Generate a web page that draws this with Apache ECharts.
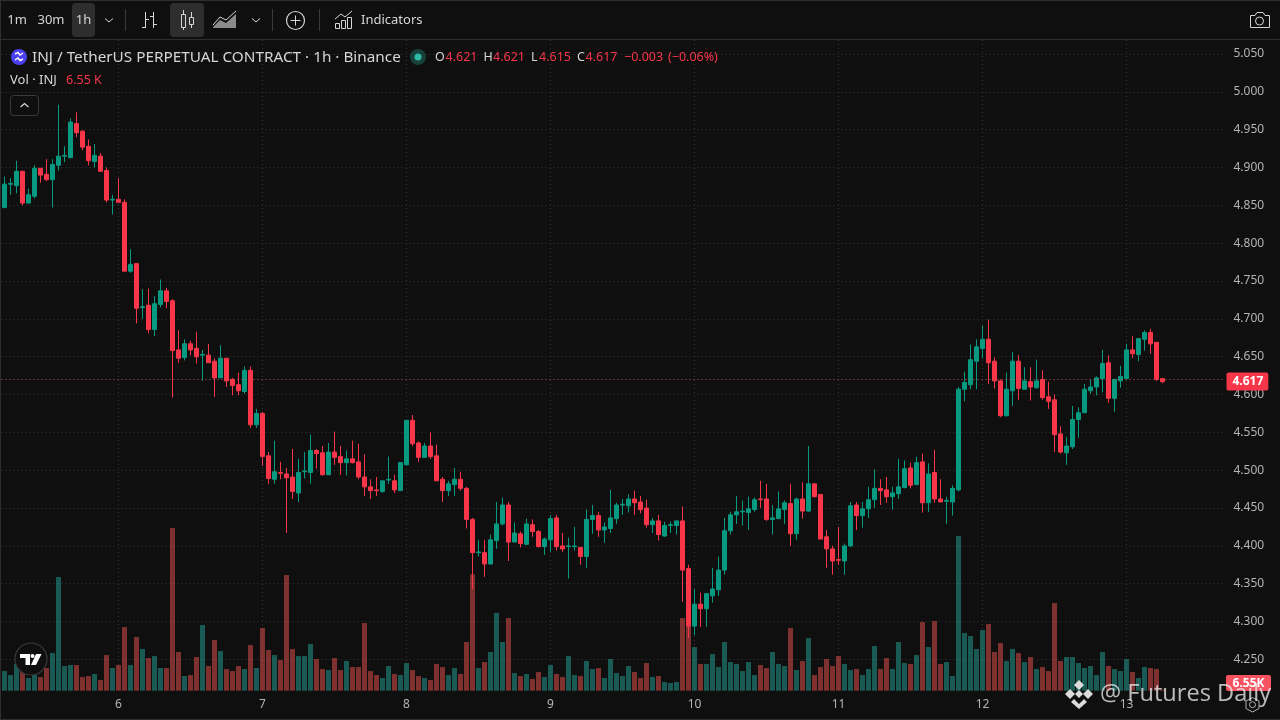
<!DOCTYPE html>
<html><head><meta charset="utf-8">
<style>html,body{margin:0;padding:0;background:#0f0f0f}#c{width:1280px;height:720px}</style>
<script src="https://cdn.jsdelivr.net/npm/echarts@6/dist/echarts.min.js"></script>
</head><body><div id="c"></div>
<script>
const tickLabels = ['6','7','8','9','10','11','12','13'];
const priceTicks = {min:4.25, max:5.05, step:0.05};
const lastPrice = 4.617;
const opens = [4.847,4.878,4.876,4.895,4.853,4.862,4.899,4.891,4.884,4.903,
4.915,4.913,4.958,4.948,4.928,4.908,4.915,4.896,4.857,4.858,
4.854,4.763,4.773,4.715,4.718,4.686,4.719,4.737,4.724,4.659,
4.649,4.667,4.661,4.652,4.652,4.644,4.622,4.648,4.620,4.613,
4.604,4.632,4.560,4.575,4.519,4.488,4.497,4.495,4.491,4.470,
4.498,4.497,4.526,4.523,4.494,4.524,4.518,4.510,4.515,4.511,
4.491,4.478,4.474,4.472,4.487,4.486,4.473,4.507,4.566,4.536,
4.517,4.532,4.519,4.488,4.473,4.481,4.488,4.476,4.435,4.391,
4.391,4.376,4.407,4.429,4.454,4.405,4.416,4.402,4.428,4.419,
4.399,4.408,4.437,4.400,4.399,4.399,4.398,4.386,4.435,4.440,
4.421,4.423,4.436,4.454,4.453,4.462,4.458,4.450,4.428,4.433,
4.413,4.427,4.427,4.433,4.370,4.294,4.323,4.317,4.334,4.342,
4.368,4.420,4.441,4.445,4.444,4.448,4.462,4.462,4.435,4.436,
4.448,4.456,4.416,4.462,4.446,4.482,4.468,4.412,4.396,4.382,
4.380,4.400,4.454,4.440,4.449,4.461,4.476,4.474,4.465,4.469,
4.477,4.503,4.481,4.511,4.457,4.497,4.462,4.459,4.458,4.474,
4.607,4.613,4.644,4.661,4.673,4.644,4.618,4.572,4.605,4.644,
4.607,4.617,4.609,4.620,4.597,4.593,4.548,4.523,4.531,4.567,
4.576,4.605,4.610,4.621,4.642,4.595,4.618,4.621,4.659,4.653,
4.673,4.682,4.669,4.621];
const closes = [4.878,4.879,4.895,4.853,4.864,4.899,4.890,4.884,4.904,4.915,
4.916,4.960,4.946,4.927,4.909,4.916,4.895,4.857,4.858,4.854,
4.763,4.772,4.714,4.716,4.686,4.720,4.737,4.723,4.658,4.648,
4.667,4.659,4.650,4.653,4.642,4.622,4.648,4.618,4.612,4.605,
4.632,4.560,4.575,4.518,4.489,4.498,4.496,4.490,4.472,4.497,
4.499,4.526,4.522,4.494,4.524,4.517,4.510,4.515,4.510,4.491,
4.478,4.473,4.473,4.486,4.488,4.474,4.510,4.566,4.535,4.517,
4.532,4.518,4.486,4.473,4.482,4.488,4.476,4.435,4.391,4.392,
4.376,4.408,4.429,4.454,4.405,4.417,4.403,4.429,4.419,4.399,
4.409,4.436,4.399,4.396,4.400,4.400,4.386,4.435,4.440,4.421,
4.425,4.437,4.454,4.455,4.462,4.457,4.448,4.428,4.433,4.415,
4.427,4.428,4.433,4.368,4.294,4.323,4.317,4.337,4.343,4.368,
4.420,4.441,4.445,4.446,4.449,4.461,4.461,4.435,4.437,4.449,
4.457,4.416,4.462,4.446,4.482,4.465,4.409,4.396,4.380,4.381,
4.400,4.453,4.440,4.449,4.461,4.476,4.473,4.465,4.470,4.478,
4.502,4.480,4.510,4.457,4.495,4.462,4.458,4.460,4.476,4.607,
4.616,4.646,4.663,4.673,4.642,4.618,4.572,4.607,4.644,4.608,
4.618,4.610,4.618,4.596,4.591,4.547,4.524,4.532,4.567,4.576,
4.607,4.610,4.622,4.641,4.595,4.620,4.624,4.659,4.654,4.674,
4.682,4.667,4.620,4.617];
const lows = [4.847,4.864,4.866,4.850,4.853,4.859,4.880,4.882,4.847,4.896,
4.907,4.913,4.940,4.923,4.903,4.900,4.895,4.854,4.838,4.854,
4.763,4.761,4.694,4.700,4.681,4.677,4.715,4.714,4.596,4.642,
4.645,4.652,4.641,4.618,4.642,4.597,4.622,4.610,4.599,4.599,
4.601,4.556,4.556,4.506,4.482,4.482,4.488,4.417,4.462,4.458,
4.489,4.482,4.502,4.493,4.494,4.507,4.494,4.493,4.509,4.488,
4.466,4.462,4.466,4.470,4.482,4.470,4.473,4.507,4.532,4.511,
4.517,4.515,4.486,4.458,4.466,4.466,4.473,4.423,4.343,4.386,
4.359,4.376,4.396,4.427,4.380,4.405,4.398,4.402,4.412,4.398,
4.388,4.392,4.394,4.392,4.357,4.394,4.375,4.371,4.416,4.412,
4.404,4.417,4.429,4.441,4.444,4.441,4.443,4.424,4.417,4.407,
4.412,4.417,4.415,4.326,4.278,4.282,4.293,4.293,4.325,4.334,
4.362,4.415,4.429,4.427,4.421,4.445,4.450,4.433,4.415,4.436,
4.429,4.400,4.408,4.436,4.445,4.464,4.409,4.371,4.362,4.375,
4.362,4.399,4.421,4.424,4.437,4.450,4.454,4.457,4.448,4.462,
4.476,4.476,4.480,4.444,4.445,4.457,4.458,4.429,4.440,4.472,
4.591,4.607,4.607,4.648,4.614,4.608,4.570,4.571,4.585,4.593,
4.607,4.592,4.608,4.593,4.581,4.524,4.522,4.507,4.528,4.543,
4.576,4.601,4.599,4.603,4.589,4.577,4.609,4.621,4.648,4.644,
4.658,4.654,4.618,4.615];
const highs = [4.888,4.886,4.909,4.896,4.872,4.903,4.899,4.911,4.911,4.983,
4.928,4.965,4.973,4.949,4.937,4.931,4.919,4.900,4.864,4.886,
4.858,4.792,4.773,4.739,4.740,4.730,4.752,4.741,4.726,4.685,
4.673,4.671,4.683,4.659,4.667,4.648,4.665,4.648,4.622,4.629,
4.637,4.637,4.581,4.577,4.524,4.539,4.511,4.503,4.528,4.515,
4.524,4.547,4.528,4.532,4.536,4.551,4.532,4.526,4.539,4.535,
4.521,4.488,4.491,4.486,4.518,4.494,4.510,4.566,4.573,4.538,
4.536,4.550,4.534,4.491,4.486,4.503,4.498,4.478,4.437,4.408,
4.408,4.415,4.458,4.464,4.458,4.431,4.419,4.436,4.435,4.421,
4.411,4.441,4.441,4.417,4.411,4.425,4.398,4.448,4.454,4.445,
4.431,4.474,4.457,4.462,4.468,4.473,4.466,4.461,4.437,4.441,
4.432,4.432,4.433,4.452,4.375,4.343,4.338,4.337,4.371,4.386,
4.437,4.445,4.466,4.460,4.465,4.464,4.486,4.482,4.454,4.472,
4.460,4.482,4.464,4.484,4.532,4.482,4.468,4.421,4.400,4.425,
4.403,4.458,4.458,4.458,4.478,4.501,4.488,4.491,4.478,4.515,
4.513,4.510,4.518,4.522,4.509,4.527,4.488,4.465,4.480,4.610,
4.630,4.666,4.673,4.691,4.699,4.649,4.620,4.629,4.656,4.652,
4.636,4.636,4.646,4.632,4.617,4.600,4.558,4.544,4.585,4.583,
4.614,4.620,4.624,4.659,4.652,4.620,4.638,4.667,4.677,4.674,
4.685,4.687,4.669,4.621];
const volumes = [118,94,160,140,76,94,82,136,226,682,
148,154,154,82,88,100,64,214,136,154,
382,154,322,250,196,208,136,136,976,232,
88,94,202,394,148,304,238,130,118,148,
130,274,136,376,244,214,184,694,250,208,
208,280,190,130,124,196,124,178,142,142,
406,118,94,76,148,100,94,166,124,88,
76,64,160,142,94,136,100,292,698,136,
172,232,466,292,436,106,88,100,70,112,
82,154,100,82,208,94,88,178,130,136,
76,190,106,88,148,112,76,166,82,88,
52,46,52,436,436,262,160,160,220,142,
292,172,160,118,172,94,154,136,232,160,
148,376,124,178,316,94,142,190,148,208,
160,124,130,94,130,268,130,196,130,292,
166,160,214,412,262,418,160,172,88,928,
346,328,250,364,400,232,286,178,250,226,
172,202,130,142,118,526,178,202,202,166,
136,148,94,232,148,130,118,190,112,76,
142,136,130,6.55];

const RED='#F7364A', GREEN='#089981', BG='#0f0f0f';
const VOL_G='rgba(38,166,154,0.5)', VOL_R='rgba(239,83,80,0.5)';
const GRID='#363636', TXT='#b4b4b4', LT='#d6d6d6', FONT='"Noto Sans",sans-serif';

const FIRST_MIDNIGHT=19, PER_DAY=24, SLOTS=204;
const categories=[];
for(let i=0;i<SLOTS;i++){
  const k=(i-FIRST_MIDNIGHT)/PER_DAY;
  categories.push(Number.isInteger(k)&&tickLabels[k]?tickLabels[k]:'h'+i);
}
const isTick=(i,v)=>tickLabels.includes(v);
const candleData=opens.map((o,i)=>[o,closes[i],lows[i],highs[i]]);
const volData=volumes.map((v,i)=>({value:v,itemStyle:{color:closes[i]>=opens[i]?VOL_G:VOL_R}}));

function pl(points,stroke,w){return {type:'polyline',silent:true,z:20,shape:{points},style:{stroke:stroke||LT,lineWidth:w||1,fill:null}};}
function rect(x,y,w,h,fill,r,stroke){return {type:'rect',silent:true,z:10,shape:{x,y,width:w,height:h,r:r||0},style:{fill:fill||null,stroke:stroke||null,lineWidth:1}};}
function circ(cx,cy,r,fill,stroke,lw){return {type:'circle',silent:true,z:20,shape:{cx,cy,r},style:{fill:fill||null,stroke:stroke||null,lineWidth:lw||1}};}
function txt(x,y,t,size,fill,extra){return {type:'text',silent:true,z:30,x,y,style:Object.assign({text:t,fontSize:size,fill,fontFamily:FONT,verticalAlign:'middle',textAlign:'left'},extra||{})};}
function poly(points,fill){return {type:'polygon',silent:true,z:31,shape:{points},style:{fill}};}

const chrome=[
  rect(0,0,1280,39,BG),
  rect(0,0,1280,1,'#2e2e2e'),
  rect(0,39,1280,1,'#2e2e2e'),
  rect(0,0,1,720,'#2e2e2e'),
  rect(0,719,1280,1,'#2e2e2e'),
  rect(72,3,23,34,'#2e2e2e',4),
  rect(170,3,34,34,'#2e2e2e',4),
  txt(17,20.5,'1m',13,LT,{textAlign:'center'}),
  txt(51,20.5,'30m',13,LT,{textAlign:'center'}),
  txt(83.5,20.5,'1h',13,LT,{textAlign:'center'}),
  pl([[105,18.5],[109,22],[113,18.5]]),
  rect(125,9,1,22,'#3a3a3a'),
  pl([[145.5,12],[145.5,28]]),pl([[142,27.5],[145.5,27.5]]),pl([[145.5,19.5],[149,19.5]]),
  pl([[153.5,12],[153.5,28]]),pl([[150,16.5],[153.5,16.5]]),pl([[153.5,24.5],[157,24.5]]),
  rect(181.5,14.5,4,13,null,0,LT),pl([[183.5,10],[183.5,14.5]]),pl([[183.5,27.5],[183.5,30]]),
  rect(189.5,17.5,4,7,null,0,LT),pl([[191.5,12],[191.5,17.5]]),pl([[191.5,24.5],[191.5,28]]),
  {type:'polygon',silent:true,z:20,shape:{points:[[213,27],[220,20],[226,23],[236,14],[236,28],[213,28]]},style:{fill:'#8a8a8a'}},
  pl([[213,25],[220,17],[226,20],[236,11]]),
  pl([[252,18.5],[256,22],[260,18.5]]),
  rect(272,9,1,22,'#3a3a3a'),
  circ(295.5,20.5,9,null,LT,1.2),pl([[295.5,15.5],[295.5,25.5]]),pl([[290.5,20.5],[300.5,20.5]]),
  rect(319,9,1,22,'#3a3a3a'),
  rect(335.5,23.5,4,5,null,0,LT),rect(341.5,20.5,4,8,null,0,LT),rect(347.5,17.5,4,11,null,0,LT),
  pl([[335,19],[341,14],[345,17],[352,11]]),
  txt(361,20.5,'Indicators',13,LT),
  {type:'polygon',silent:true,z:20,shape:{points:[[1250.5,15.5],[1255,15.5],[1257,12.5],[1263,12.5],[1265,15.5],[1269.5,15.5],[1269.5,27.5],[1250.5,27.5]]},style:{fill:null,stroke:LT,lineWidth:1}},
  circ(1259.5,21,4,null,LT),
  circ(19,57,8,'#4a40f0'),
  pl([[15,54],[18,52.5],[20,55],[23,53]],'#fff',1.4),pl([[15,60],[18,58],[20,60.5],[23,59]],'#fff',1.4),
  txt(32,57.5,'INJ / TetherUS PERPETUAL CONTRACT · 1h · Binance',15.3,LT),
  circ(418,57,8,'#17403b'),circ(418,57,3.5,'#2fb8a4'),
  txt(435,57.5,'O',12.5,LT),txt(445.5,57.5,'4.621',12.5,RED),
  txt(483.5,57.5,'H',12.5,LT),txt(493,57.5,'4.621',12.5,RED),
  txt(531,57.5,'L',12.5,LT),txt(539,57.5,'4.615',12.5,RED),
  txt(577,57.5,'C',12.5,LT),txt(585.5,57.5,'4.617',12.5,RED),
  txt(624,57.5,'−0.003',12.5,RED),txt(668,57.5,'(−0.06%)',12.5,RED),
  txt(10,80.5,'Vol · INJ',13,LT),
  txt(66,80.5,'6.55 K',12.5,RED),
  rect(10.5,95.5,28,20,null,3,'#3a3a3a'),
  pl([[20.5,107],[24.5,103.5],[28.5,107]],LT,1.3),
  rect(1226,675,45,16,'#F7525F',2),
  txt(1248.5,684,'6.55K',12,'#fff',{textAlign:'center',fontWeight:'bold'}),
  Object.assign(circ(31,659,16,BG,'#3a3a3a',1.2),{z:25}),
  poly([[20,654],[30,654],[30,665],[25.5,665],[25.5,658],[20,658]],'#fff'),
  Object.assign(circ(32.5,656,2,'#fff'),{z:31}),
  poly([[36,654],[41.5,654],[36,665],[31,665]],'#fff'),
  {type:'polygon',silent:true,z:20,shape:{points:[[1252.5,697.5],[1259,701],[1259,708.5],[1252.5,712],[1246,708.5],[1246,701]]},style:{fill:null,stroke:'#b0b0b0',lineWidth:1}},
  circ(1252.5,704.7,3,null,'#b0b0b0'),
  poly([[1079,680],[1084,685],[1079,690],[1074,685]],'#dcdcdc'),
  poly([[1070,689],[1075,694],[1070,699],[1065,694]],'#dcdcdc'),
  poly([[1088,689],[1093,694],[1088,699],[1083,694]],'#dcdcdc'),
  poly([[1079,690],[1083,694],[1079,698],[1075,694]],'#dcdcdc'),
  poly([[1074,699],[1079,704],[1084,699],[1087,702],[1079,709],[1071,702]],'#dcdcdc'),
  {type:'text',silent:true,z:32,x:1100,y:694,style:{text:'@ Futures Daily',fontSize:23.6,fontFamily:'"Open Sans",sans-serif',fill:'rgba(235,235,235,0.78)',verticalAlign:'middle',textAlign:'left'}}
];

const chart=echarts.init(document.getElementById('c'),null,{renderer:'canvas',width:1280,height:720});
chart.setOption({
  animation:false,
  backgroundColor:BG,
  graphic:{elements:chrome},
  grid:[
    {left:1.5,width:1224,top:54,height:605.4},
    {left:1.5,width:1224,top:40,height:650.7}
  ],
  xAxis:[
    {type:'category',gridIndex:0,data:categories,boundaryGap:true,show:false},
    {type:'category',gridIndex:1,data:categories,boundaryGap:true,
     axisLine:{show:false},axisTick:{show:false},
     axisLabel:{interval:isTick,color:TXT,fontSize:12,margin:8,fontFamily:FONT,formatter:v=>v},
     splitLine:{show:true,interval:isTick,alignWithLabel:true,lineStyle:{color:GRID,type:[1,3],width:1}}}
  ],
  yAxis:[
    {type:'value',gridIndex:0,position:'right',min:priceTicks.min,max:priceTicks.max,interval:priceTicks.step,
     axisLine:{show:false},axisTick:{show:false},
     axisLabel:{color:TXT,fontSize:12,margin:8,padding:[3,0,0,0],fontFamily:FONT,formatter:v=>v.toFixed(3)},
     splitLine:{show:true,lineStyle:{color:GRID,type:[1,3],width:1}}},
    {type:'value',gridIndex:1,min:0,max:3904,axisLine:{show:false},axisTick:{show:false},axisLabel:{show:false},splitLine:{show:false}}
  ],
  series:[
    {type:'bar',name:'Vol',xAxisIndex:1,yAxisIndex:1,data:volData,barWidth:5,z:1,silent:true},
    {type:'candlestick',name:'INJ',xAxisIndex:0,yAxisIndex:0,data:candleData,barWidth:4,z:3,silent:true,
     itemStyle:{color:GREEN,color0:RED,borderColor:GREEN,borderColor0:RED,borderWidth:1},
     markLine:{silent:true,symbol:'none',animation:false,
       lineStyle:{color:'#c9525c',type:[1,3],width:1},
       label:{show:true,position:'end',distance:0,offset:[1,2],formatter:()=>lastPrice.toFixed(3),color:'#fff',backgroundColor:RED,
         fontSize:12,fontWeight:'bold',fontFamily:FONT,padding:[3,5,3,6],borderRadius:2},
       data:[{yAxis:lastPrice}]}}
  ]
});
</script></body></html>
